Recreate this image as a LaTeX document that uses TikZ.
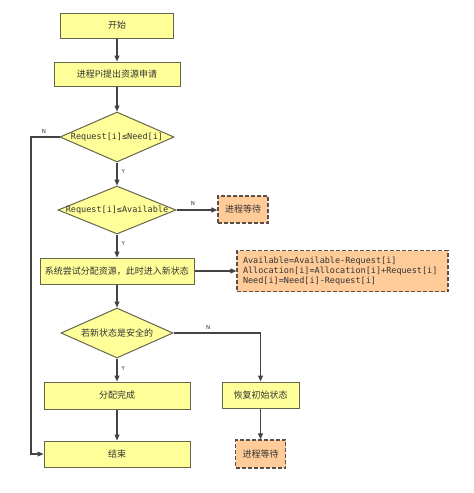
\documentclass[tikz,border=0pt]{standalone}
\usepackage{fontspec}
\setmainfont{Noto Sans CJK SC}
\newfontfamily\monof{DejaVu Sans Mono}
\newfontfamily\lblf{DejaVu Sans}
\usetikzlibrary{shapes.geometric,arrows.meta}
\definecolor{yfill}{HTML}{FFFF99}
\definecolor{yedge}{HTML}{66664D}
\definecolor{ofill}{HTML}{FFCC99}
\definecolor{oedge}{HTML}{5A5048}
\definecolor{lnc}{HTML}{444444}
\definecolor{txc}{HTML}{333333}
\tikzset{
  ybox/.style={draw=yedge, fill=yfill, line width=1pt, inner sep=0pt, text=txc,
    font=\fontsize{9}{11}\selectfont},
  obox/.style={draw=oedge, fill=ofill, line width=1.3pt, dash pattern=on 4pt off 2pt,
    inner sep=0pt, text=txc, font=\fontsize{9}{11}\selectfont},
  dia/.style={diamond, draw=yedge, fill=yfill, line width=1pt, inner sep=0pt},
  diatext/.style={text=txc, font=\monof\fontsize{8.5}{10}\selectfont},
  conn/.style={draw=lnc, line width=1.1pt, -{Triangle[length=6pt,width=5pt]}},
  yn/.style={font=\lblf\fontsize{5.5}{6}\selectfont, text=txc, inner sep=0pt}
}
\begin{document}
\begin{tikzpicture}[x=1pt,y=-1pt]
\useasboundingbox (0,0) rectangle (474,493);
\fill[white] (0,0) rectangle (474,493);

\node[ybox, minimum width=113pt, minimum height=25pt] (start) at (117,25.5) {开始};
\node[ybox, minimum width=126pt, minimum height=24pt] (req) at (117,74) {进程Pi提出资源申请};
\node[dia, minimum width=114pt, minimum height=50pt] (d1) at (117,137) {};
\node[diatext] (d1t) at (117,137) {Request[i]≤Need[i]};
\node[dia, minimum width=118pt, minimum height=48pt] (d2) at (117,210) {};
\node[diatext] (d2t) at (117,210) {Request[i]≤Available};
\node[obox, minimum width=50pt, minimum height=27pt] (w1) at (243,209.5) {进程等待};
\node[ybox, minimum width=154pt, minimum height=26pt] (sys) at (117,271) {系统尝试分配资源，此时进入新状态};
\node[obox, minimum height=41pt, text width=199pt, inner xsep=6pt, align=left,
  font=\monof\fontsize{8.5}{10}\selectfont] (big) at (342.5,271)
  {Available=Available-Request[i]\\Allocation[i]=Allocation[i]+Request[i]\\Need[i]=Need[i]-Request[i]};
\node[dia, minimum width=112pt, minimum height=50pt] (d3) at (117,333) {};
\node[text=txc, font=\fontsize{9}{11}\selectfont] (d3t) at (117,333) {若新状态是安全的};
\node[ybox, minimum width=146pt, minimum height=27pt] (alloc) at (117,395.5) {分配完成};
\node[ybox, minimum width=146pt, minimum height=26pt] (end) at (117,454) {结束};
\node[ybox, minimum width=77pt, minimum height=26pt] (rest) at (260.5,395) {恢复初始状态};
\node[obox, minimum width=50pt, minimum height=28pt] (w2) at (260.5,454) {进程等待};

\coordinate (lc) at (31,137);

\draw[conn] (start.south) -- (req.north);
\draw[conn] (req.south) -- (d1.north);
\draw[conn] (d1.south) -- node[yn, pos=0.4, right=4pt] (y1) {Y} (d2.north);
\draw[conn] (d2.east) -- node[yn, pos=0.4, above=4pt] (n2) {N} (d2.east -| w1.west);
\draw[conn] (d2.south) -- node[yn, pos=0.4, right=4pt] (y2) {Y} (sys.north);
\draw[conn] (sys.east) -- (sys.east -| big.west);
\draw[conn] (sys.south) -- (d3.north);
\draw[conn] (d3.south) -- node[yn, pos=0.45, right=4pt] (y3) {Y} (alloc.north);
\draw[conn] (d3.east) -- node[yn, pos=0.4, above=3pt] (n3) {N} (rest.north |- d3.east) -- (rest.north);
\draw[conn] (alloc.south) -- (end.north);
\draw[conn] (rest.south) -- (w2.north);
\draw[conn] (d1.west) -- node[yn, pos=0.55, above=3pt] (n1) {N} (lc) |- (end.west);
\end{tikzpicture}
\end{document}
